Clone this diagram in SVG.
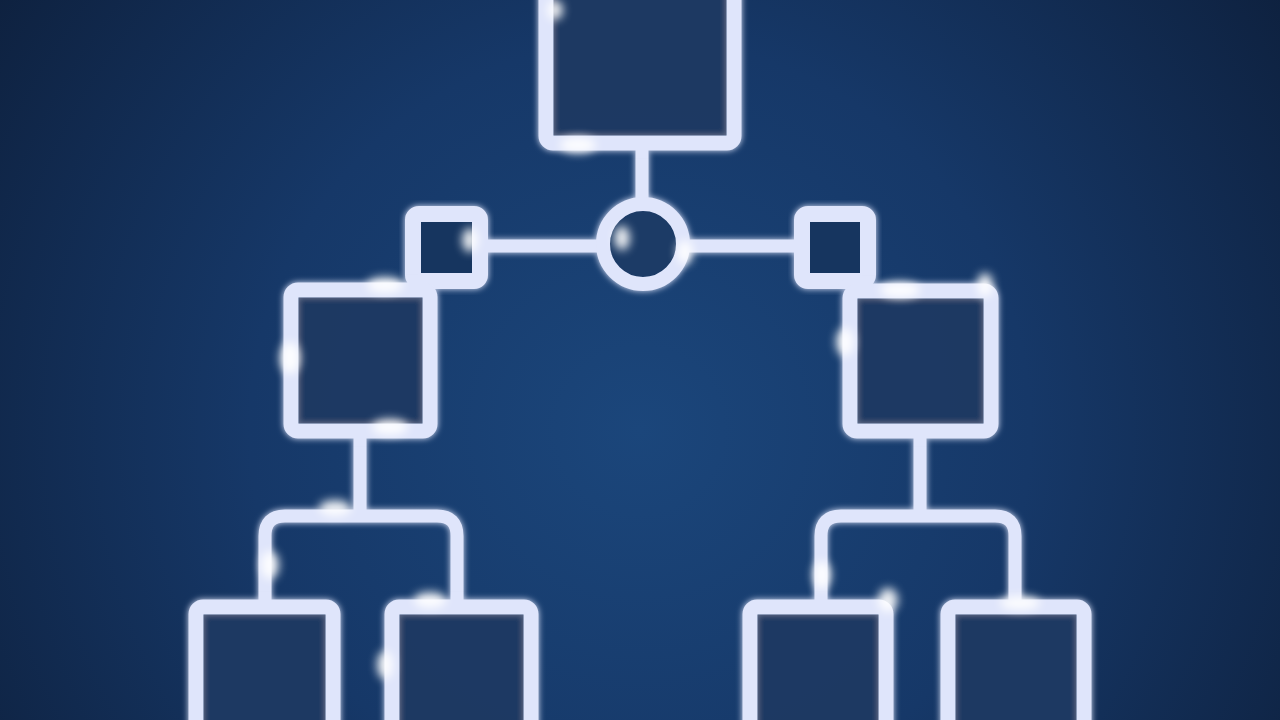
<svg xmlns="http://www.w3.org/2000/svg" width="1280" height="720" viewBox="0 0 1280 720">
  <defs>
    <radialGradient id="bg" cx="640" cy="430" r="780" gradientUnits="userSpaceOnUse">
      <stop offset="0" stop-color="#1b467b"/>
      <stop offset="0.5" stop-color="#163868"/>
      <stop offset="1" stop-color="#0e213f"/>
    </radialGradient>
    <filter id="glow" x="-20%" y="-20%" width="140%" height="140%">
      <feGaussianBlur in="SourceGraphic" stdDeviation="3" result="b"/>
      <feMerge>
        <feMergeNode in="b"/>
        <feMergeNode in="SourceGraphic"/>
      </feMerge>
    </filter>
    <filter id="spark" x="-100%" y="-100%" width="300%" height="300%">
      <feGaussianBlur stdDeviation="5"/>
    </filter>
  </defs>
  <style>
    .box { fill: #1e3a61; fill-opacity: 0.8; stroke: #dfe5fb; stroke-width: 15; }
    .sq { fill: #17365f; stroke: #dfe5fb; stroke-width: 16; }
    .ln { fill: none; stroke: #dfe5fb; stroke-width: 13; stroke-linecap: butt; }
    .sp { fill: #ffffff; opacity: 0.9; }
  </style>
  <rect width="1280" height="720" fill="url(#bg)"/>

  <g id="connectors" filter="url(#glow)">
    <line class="ln" x1="642" y1="150" x2="642" y2="200"/>
    <line class="ln" x1="480" y1="246" x2="598" y2="246"/>
    <line class="ln" x1="688" y1="246" x2="804" y2="246"/>
    <line class="ln" x1="360" y1="438" x2="360" y2="516"/>
    <path class="ln" d="M265 604 V536 Q265 516 285 516 H437 Q457 516 457 536 V604"/>
    <line class="ln" x1="920" y1="438" x2="920" y2="516"/>
    <path class="ln" d="M821 604 V536 Q821 516 841 516 H995 Q1015 516 1015 536 V604"/>
  </g>

  <g id="root" filter="url(#glow)">
    <rect class="box" x="546" y="-30" width="188" height="173" rx="7"/>
  </g>
  <g id="hub" filter="url(#glow)">
    <circle cx="643" cy="244" r="40" fill="#1a3a66" stroke="#dfe5fb" stroke-width="14"/>
  </g>
  <g id="left-small" filter="url(#glow)">
    <rect class="sq" x="413" y="214" width="67" height="67" rx="6"/>
  </g>
  <g id="right-small" filter="url(#glow)">
    <rect class="sq" x="802" y="214" width="66" height="67" rx="6"/>
  </g>
  <g id="left-mid" filter="url(#glow)">
    <rect class="box" x="291" y="290" width="139" height="141" rx="7"/>
  </g>
  <g id="right-mid" filter="url(#glow)">
    <rect class="box" x="850" y="291" width="141" height="140" rx="7"/>
  </g>
  <g id="leaf-1" filter="url(#glow)">
    <rect class="box" x="196" y="607" width="137" height="160" rx="7"/>
  </g>
  <g id="leaf-2" filter="url(#glow)">
    <rect class="box" x="392" y="607" width="139" height="160" rx="7"/>
  </g>
  <g id="leaf-3" filter="url(#glow)">
    <rect class="box" x="750" y="607" width="136" height="160" rx="7"/>
  </g>
  <g id="leaf-4" filter="url(#glow)">
    <rect class="box" x="948" y="607" width="136" height="160" rx="7"/>
  </g>

  <g id="sparkles" filter="url(#spark)">
    <ellipse class="sp" cx="555" cy="10" rx="8" ry="10"/>
    <ellipse class="sp" cx="578" cy="145" rx="18" ry="8"/>
    <ellipse class="sp" cx="622" cy="238" rx="8" ry="12"/>
    <ellipse class="sp" cx="685" cy="252" rx="8" ry="12"/>
    <ellipse class="sp" cx="470" cy="240" rx="8" ry="12"/>
    <ellipse class="sp" cx="385" cy="285" rx="18" ry="8"/>
    <ellipse class="sp" cx="290" cy="358" rx="10" ry="16"/>
    <ellipse class="sp" cx="390" cy="427" rx="18" ry="8"/>
    <ellipse class="sp" cx="335" cy="508" rx="16" ry="8"/>
    <ellipse class="sp" cx="270" cy="565" rx="9" ry="14"/>
    <ellipse class="sp" cx="430" cy="600" rx="16" ry="8"/>
    <ellipse class="sp" cx="385" cy="665" rx="8" ry="14"/>
    <ellipse class="sp" cx="900" cy="290" rx="20" ry="8"/>
    <ellipse class="sp" cx="985" cy="285" rx="8" ry="12"/>
    <ellipse class="sp" cx="845" cy="342" rx="9" ry="14"/>
    <ellipse class="sp" cx="822" cy="575" rx="9" ry="14"/>
    <ellipse class="sp" cx="888" cy="600" rx="10" ry="12"/>
    <ellipse class="sp" cx="1020" cy="603" rx="20" ry="7"/>
  </g>
</svg>
